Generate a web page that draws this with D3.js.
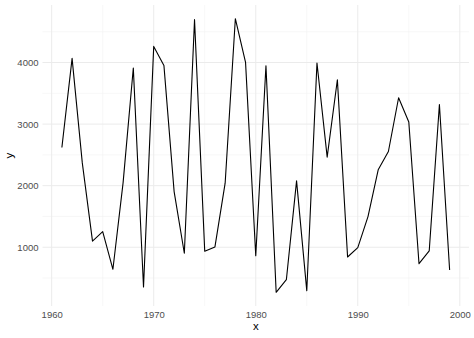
<!DOCTYPE html>
<html lang="en">
<head>
  <meta charset="utf-8">
  <title>line chart</title>
  <style>
    body { margin: 0; background: #fff; }
    svg { display: block; font-family: "Liberation Sans", Arial, sans-serif; }
    .grid-major { stroke: #ebebeb; stroke-width: 1; }
    .grid-minor { stroke: #f2f2f2; stroke-width: 0.6; }
    .tick-label { fill: #4d4d4d; font-size: 9.5px; }
    .axis-title { fill: #000; font-size: 11.5px; }
  </style>
</head>
<body>
<div id="chart"></div>
<script src="https://cdn.jsdelivr.net/npm/d3@7"></script>
<script>

  ////////////////////////////////////////////////// DATA

  var years = [1961, 1962, 1963, 1964, 1965, 1966, 1967, 1968, 1969, 1970,
               1971, 1972, 1973, 1974, 1975, 1976, 1977, 1978, 1979, 1980,
               1981, 1982, 1983, 1984, 1985, 1986, 1987, 1988, 1989, 1990,
               1991, 1992, 1993, 1994, 1995, 1996, 1997, 1998, 1999];

  var values = [2620, 4067, 2370, 1100, 1254, 642, 2050, 3910, 354, 4262,
                3953, 1904, 902, 4696, 935, 1005, 2040, 4712, 4002, 863,
                3948, 268, 473, 2078, 295, 3992, 2463, 3720, 842, 994,
                1498, 2257, 2555, 3428, 3033, 733, 940, 3319, 631];

  var xTicks = [1960, 1970, 1980, 1990, 2000];
  var xMinor = [1965, 1975, 1985, 1995];
  var yTicks = [1000, 2000, 3000, 4000];
  var yMinor = [500, 1500, 2500, 3500, 4500];

  ////////////////////////////////////////////////// SETUP

  var width = 474, height = 338;
  var panel = {left: 42.5, right: 469, top: 5, bottom: 306};

  var svg = d3.select("#chart").append("svg")
    .attr("width", width)
    .attr("height", height);

  var data = years.map(function(y, i) { return {x: y, y: values[i]}; });

  // ggplot-like 5% expansion
  function expand(ext) {
    var pad = (ext[1] - ext[0]) * 0.05;
    return [ext[0] - pad, ext[1] + pad];
  }

  var x = d3.scaleLinear()
    .domain(expand(d3.extent(years)))
    .range([panel.left, panel.right]);

  var y = d3.scaleLinear()
    .domain(expand(d3.extent(values)))
    .range([panel.bottom, panel.top]);

  ////////////////////////////////////////////////// GRID

  var grid = svg.append("g");

  grid.selectAll(".gx-minor").data(xMinor).enter().append("line")
    .attr("class", "grid-minor")
    .attr("x1", function(d) { return x(d); }).attr("x2", function(d) { return x(d); })
    .attr("y1", panel.top).attr("y2", panel.bottom);

  grid.selectAll(".gy-minor").data(yMinor).enter().append("line")
    .attr("class", "grid-minor")
    .attr("y1", function(d) { return y(d); }).attr("y2", function(d) { return y(d); })
    .attr("x1", panel.left).attr("x2", panel.right);

  grid.selectAll(".gx-major").data(xTicks).enter().append("line")
    .attr("class", "grid-major")
    .attr("x1", function(d) { return x(d); }).attr("x2", function(d) { return x(d); })
    .attr("y1", panel.top).attr("y2", panel.bottom);

  grid.selectAll(".gy-major").data(yTicks).enter().append("line")
    .attr("class", "grid-major")
    .attr("y1", function(d) { return y(d); }).attr("y2", function(d) { return y(d); })
    .attr("x1", panel.left).attr("x2", panel.right);

  ////////////////////////////////////////////////// AXES (labels only, no lines)

  var xAxis = svg.append("g")
    .attr("transform", "translate(0," + (panel.bottom + 2) + ")")
    .call(d3.axisBottom(x).tickValues(xTicks).tickFormat(d3.format("d")).tickSize(0));
  xAxis.select(".domain").remove();
  xAxis.selectAll("text").attr("class", "tick-label").attr("dy", "0.71em").attr("y", 3)
    .style("font-family", null).style("font-size", null);

  var yAxis = svg.append("g")
    .attr("transform", "translate(" + (panel.left - 2) + ",0)")
    .call(d3.axisLeft(y).tickValues(yTicks).tickFormat(d3.format("d")).tickSize(0));
  yAxis.select(".domain").remove();
  yAxis.selectAll("text").attr("class", "tick-label").attr("x", -2);

  svg.selectAll(".tick text").attr("font-family", null).attr("font-size", null).attr("fill", null);
  svg.selectAll(".tick").attr("font-family", null);
  xAxis.attr("font-family", null).attr("font-size", null);
  yAxis.attr("font-family", null).attr("font-size", null);

  ////////////////////////////////////////////////// LINE

  svg.append("path")
    .datum(data)
    .attr("fill", "none")
    .attr("stroke", "#000")
    .attr("stroke-width", 1.1)
    .attr("stroke-linejoin", "round")
    .attr("d", d3.line().x(function(d) { return x(d.x); }).y(function(d) { return y(d.y); }));

  ////////////////////////////////////////////////// TITLES

  svg.append("text")
    .attr("class", "axis-title")
    .attr("x", (panel.left + panel.right) / 2)
    .attr("y", 330)
    .attr("text-anchor", "middle")
    .text("x");

  svg.append("text")
    .attr("class", "axis-title")
    .attr("transform", "translate(13," + ((panel.top + panel.bottom) / 2) + ") rotate(-90)")
    .attr("text-anchor", "middle")
    .text("y");

</script>
</body>
</html>
